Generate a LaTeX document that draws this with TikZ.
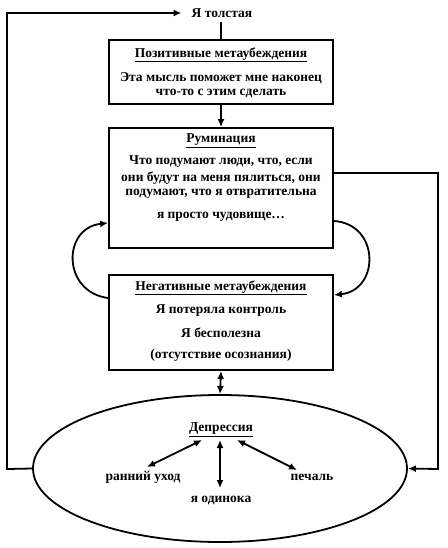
\documentclass[tikz,border=0pt]{standalone}
\usepackage{fontspec}
\setmainfont{Liberation Serif}
\usetikzlibrary{shapes.geometric,arrows.meta}
\begin{document}
\begin{tikzpicture}[x=1pt,y=-1pt,
  every node/.style={font=\fontsize{13.5}{15}\selectfont\bfseries, inner sep=0pt},
  ln/.style={line width=1.8pt},
  tip/.style={-{Latex[length=8pt,width=7pt]}},
  dtip/.style={{Latex[length=8pt,width=7pt]}-{Latex[length=8pt,width=7pt]}},
  boxx/.style={draw, line width=1.8pt, minimum width=224pt},
  txt/.style={align=center}]
\useasboundingbox (0,0) rectangle (447,548);
% top label
\node (tol) at (222,13) {Я толстая};
% boxes
\node[boxx, minimum height=64pt] (b1) at (221,72) {};
\node[boxx, minimum height=120pt] (b2) at (221,188) {};
\node[boxx, minimum height=95pt] (b3) at (221,322.5) {};
\node[draw, ellipse, line width=1.8pt, minimum width=374pt, minimum height=147pt] (el) at (220,468.5) {};
% box 1 texts
\node (t1) at (221,55) {\underline{Позитивные метаубеждения}};
\node (t1a) at (221,78) {Эта мысль поможет мне наконец};
\node (t1b) at (221,93) {что-то с этим сделать};
% box 2 texts
\node (t2) at (221,141) {\underline{Руминация}};
\node (t2a) at (221,162) {Что подумают люди, что, если};
\node (t2b) at (221,178) {они будут на меня пялиться, они};
\node (t2c) at (221,194) {подумают, что я отвратительна};
\node (t2d) at (221,217) {я просто чудовище\dots};
% box 3 texts
\node (t3) at (221,288) {\underline{Негативные метаубеждения}};
\node (t3a) at (221,311) {Я потеряла контроль};
\node (t3b) at (221,333) {Я бесполезна};
\node (t3c) at (221,355) {(отсутствие осознания)};
% ellipse texts
\node (dep) at (221,430) {\underline{Депрессия}};
\node (ru) at (143,477) {ранний уход};
\node (od) at (221,500) {я одинока};
\node (pe) at (312,477) {печаль};
% coordinates
\coordinate (lc) at (7,13);
\coordinate (ld) at (7,469);
\coordinate (rc) at (438,173);
\coordinate (rd) at (438,469);
\coordinate (a1s) at (202,440);
\coordinate (a1e) at (147,467);
\coordinate (a2s) at (220,440);
\coordinate (a2e) at (220,488);
\coordinate (a3s) at (237,440);
\coordinate (a3e) at (297,470);
% connectors
\draw[ln] (b1.north|-0,22) -- (b1.north);
\draw[ln,tip] (b1.south) -- (b2.north);
\draw[ln,dtip] (b3.south) -- (el.north);
\draw[ln,tip] (el.west) -- (ld) -- (lc) -- ([xshift=-10pt]tol.west);
\draw[ln,tip] (b2.east|-rc) -- (rc) -- (rd) -- (el.east);
\draw[ln,tip] (b3.west|-0,298) .. controls (62,292) and (62,228) .. (b2.west|-0,223);
\draw[ln,tip] (b2.east|-0,221) .. controls (380,224) and (380,290) .. (b3.east|-0,295);
\draw[ln,dtip] (a1s) -- (a1e);
\draw[ln,dtip] (a2s) -- (a2e);
\draw[ln,dtip] (a3s) -- (a3e);
\end{tikzpicture}
\end{document}
